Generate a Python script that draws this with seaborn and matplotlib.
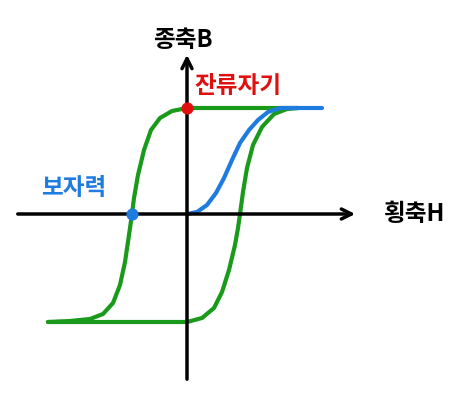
import matplotlib
matplotlib.use("Agg")
import matplotlib.pyplot as plt
import seaborn as sns
import pandas as pd

sns.set_theme(style="white")
plt.rcParams['font.family'] = ['Noto Sans CJK KR', 'DejaVu Sans']

# pixel-like coordinates (x right, y down)
upper_x = [298, 250, 187, 172, 160, 151, 144, 138, 134, 132, 129, 125, 120, 113, 103, 90, 70, 48]
upper_y = [108, 108, 108, 111, 118, 130, 150, 175, 198, 214, 235, 262, 285, 303, 314, 319, 321, 322]
lower_x = [48, 120, 187, 202, 214, 222, 229, 235, 238, 240, 243, 247, 253, 262, 274, 287, 298]
lower_y = [322, 322, 322, 318, 308, 292, 270, 245, 228, 214, 192, 168, 145, 127, 114, 109, 108]
blue_x = [187, 197, 207, 216, 224, 232, 240, 249, 258, 268, 280, 295, 322]
blue_y = [214, 212, 205, 193, 178, 160, 143, 130, 120, 112, 108, 108, 108]

fig = plt.figure(figsize=(4.74, 4.03), dpi=100)
ax = fig.add_axes([0, 0, 1, 1])
ax.set_xlim(0, 474)
ax.set_ylim(403, 0)
ax.axis('off')

green = '#1a9a1a'
blue = '#1e7be0'
sns.lineplot(x=upper_x, y=upper_y, sort=False, color=green, lw=3, ax=ax)
sns.lineplot(x=lower_x, y=lower_y, sort=False, color=green, lw=3, ax=ax)
sns.lineplot(x=blue_x, y=blue_y, sort=False, color=blue, lw=3, ax=ax)

# axes with arrows
ax.annotate('', xy=(358, 214), xytext=(15, 214),
            arrowprops=dict(arrowstyle='->', lw=2.5, color='black', mutation_scale=18))
ax.annotate('', xy=(187, 52), xytext=(187, 382),
            arrowprops=dict(arrowstyle='->', lw=2.5, color='black', mutation_scale=18))

ax.scatter([187], [108], s=60, color='#e01010', zorder=5)
ax.scatter([132], [214], s=60, color=blue, zorder=5)

ax.text(183, 40, '종축B', fontsize=17, fontweight='bold', ha='center', va='center', color='black')
ax.text(415, 214, '횡축H', fontsize=17, fontweight='bold', ha='center', va='center', color='black')
ax.text(238, 86, '잔류자기', fontsize=17, fontweight='bold', ha='center', va='center', color='#e01010')
ax.text(74, 188, '보자력', fontsize=17, fontweight='bold', ha='center', va='center', color=blue)

fig.savefig('out.png', dpi=100)
